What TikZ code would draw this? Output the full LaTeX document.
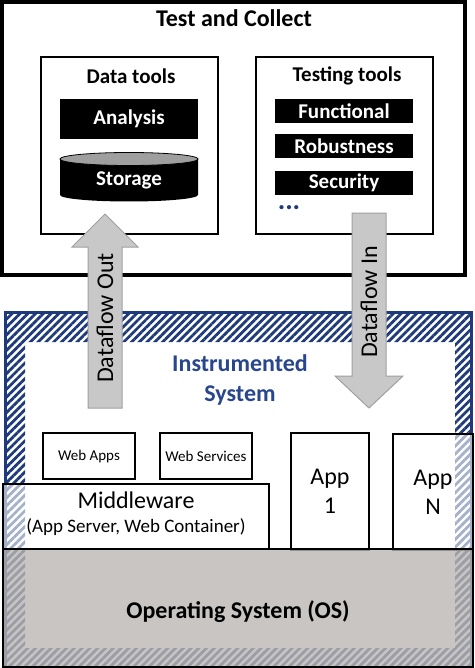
\documentclass[tikz,border=0pt]{standalone}
\usepackage{fontspec}
\setmainfont{Carlito}
\usepackage{tikz}
\usetikzlibrary{patterns.meta}
\definecolor{azulEscuro}{RGB}{31,58,122}
\definecolor{azulTexto}{RGB}{40,70,140}
\definecolor{cinzaSeta}{RGB}{200,200,200}
\definecolor{bordaSeta}{RGB}{160,160,160}
\definecolor{cinzaOS}{RGB}{186,182,179}
\tikzset{
    caixa/.style={
        rectangle,
        draw,
        line width=2pt,
        inner sep=0pt,
        align=center
    },
    caixaPreta/.style={
        rectangle,
        fill=black,
        inner sep=0pt,
        text=white,
        font=\fontsize{21}{24}\selectfont\bfseries
    },
    camada/.style={caixa, line width=1.6pt, fill=white, fill opacity=0.6, text opacity=1, draw opacity=1},
    titulo/.style={font=\fontsize{21}{24}\selectfont\bfseries},
    seta/.style={fill=cinzaSeta, draw=bordaSeta, line width=1pt},
    rotuloSeta/.style={rotate=90, font=\fontsize{24}{28}\selectfont}
}

\begin{document}
\begin{tikzpicture}[x=1pt, y=-1pt]
    \useasboundingbox (0,0) rectangle (474,668);

    % Test and Collect
    \node[caixa, line width=4pt, minimum width=463pt, minimum height=273pt] (teste) at (233.5,138.5) {};
    \node[font=\fontsize{24}{28}\selectfont\bfseries] (tituloTeste) at (234,18) {Test and Collect};

    \node[caixa, minimum width=177pt, minimum height=177pt] (dados) at (129.5,145.5) {};
    \node[titulo] (tituloDados) at (131,76) {Data tools};
    \node[caixaPreta, minimum width=138pt, minimum height=40pt] (analise) at (129,119) {Analysis};
    % cilindro do Storage
    \fill[black] (60,159) -- (60,195) arc (180:0:69 and 6.5) -- (198,159) -- cycle;
    \draw[fill=gray!75, line width=0.8pt] (129,159) ellipse (69 and 6.5);
    \node[caixaPreta, fill=none] (storage) at (129,180) {Storage};

    \node[caixa, minimum width=177pt, minimum height=177pt] (testes) at (344.5,145.5) {};
    \node[titulo] (tituloTestes) at (347,76) {Testing tools};
    \node[caixaPreta, minimum width=138pt, minimum height=24pt] (funcional) at (344,111) {Functional};
    \node[caixaPreta, minimum width=138pt, minimum height=24pt] (robustez) at (344,146) {Robustness};
    \node[caixaPreta, minimum width=138pt, minimum height=24pt] (seguranca) at (344,183) {Security};
    \node[font=\fontsize{28}{30}\selectfont\bfseries, text=azulEscuro] (reticencias) at (289,208) {...};

    % Instrumented System
    \fill[pattern={Lines[angle=45, distance=5.5pt, line width=2.8pt]}, pattern color=azulEscuro, even odd rule]
        (5,312) rectangle (471,667) (25,342) rectangle (455,648);
    \draw[azulEscuro, line width=3pt] (5,312) rectangle (471,667);
    \node[align=center, text=azulTexto, font=\fontsize{24}{30}\selectfont\bfseries] (instrumentado) at (240,380)
        {Instrumented\\System};

    \node[camada, minimum width=92pt, minimum height=46pt, font=\fontsize{15}{18}\selectfont] (webApps) at (89,456) {Web Apps};
    \node[camada, minimum width=92pt, minimum height=46pt, font=\fontsize{15}{18}\selectfont] (webServices) at (206,456) {Web Services};
    \node[camada, minimum width=266pt, minimum height=65pt] (middleware) at (136,516.5) {};
    \node[font=\fontsize{24}{28}\selectfont] (tituloMiddleware) at (136,500) {Middleware};
    \node[font=\fontsize{19}{22}\selectfont] (subMiddleware) at (136,527) {(App Server, Web Container)};
    \node[camada, minimum width=78pt, minimum height=117pt, font=\fontsize{24}{29}\selectfont] (app1) at (330,491.5) {App\\1};
    \node[camada, minimum width=80pt, minimum height=116pt, font=\fontsize{24}{29}\selectfont] (appN) at (433,492) {App\\N};
    \node[caixa, line width=1.6pt, fill=cinzaOS, fill opacity=0.8, text opacity=1, draw opacity=1,
        minimum width=470pt, minimum height=118pt] (os) at (238,608) {};
    \node[font=\fontsize{24}{28}\selectfont\bfseries] (tituloOS) at (238,612) {Operating System (OS)};

    % setas de fluxo
    \draw[seta] (88,408) -- (88,247) -- (72,247) -- (105,214) -- (138,247) -- (122,247) -- (122,408) -- cycle;
    \node[rotuloSeta] (saida) at (105,318) {Dataflow Out};
    \draw[seta] (352,213) -- (352,376) -- (335,376) -- (369,408) -- (403,376) -- (386,376) -- (386,213) -- cycle;
    \node[rotuloSeta] (entrada) at (369,302) {Dataflow In};
\end{tikzpicture}
\end{document}
